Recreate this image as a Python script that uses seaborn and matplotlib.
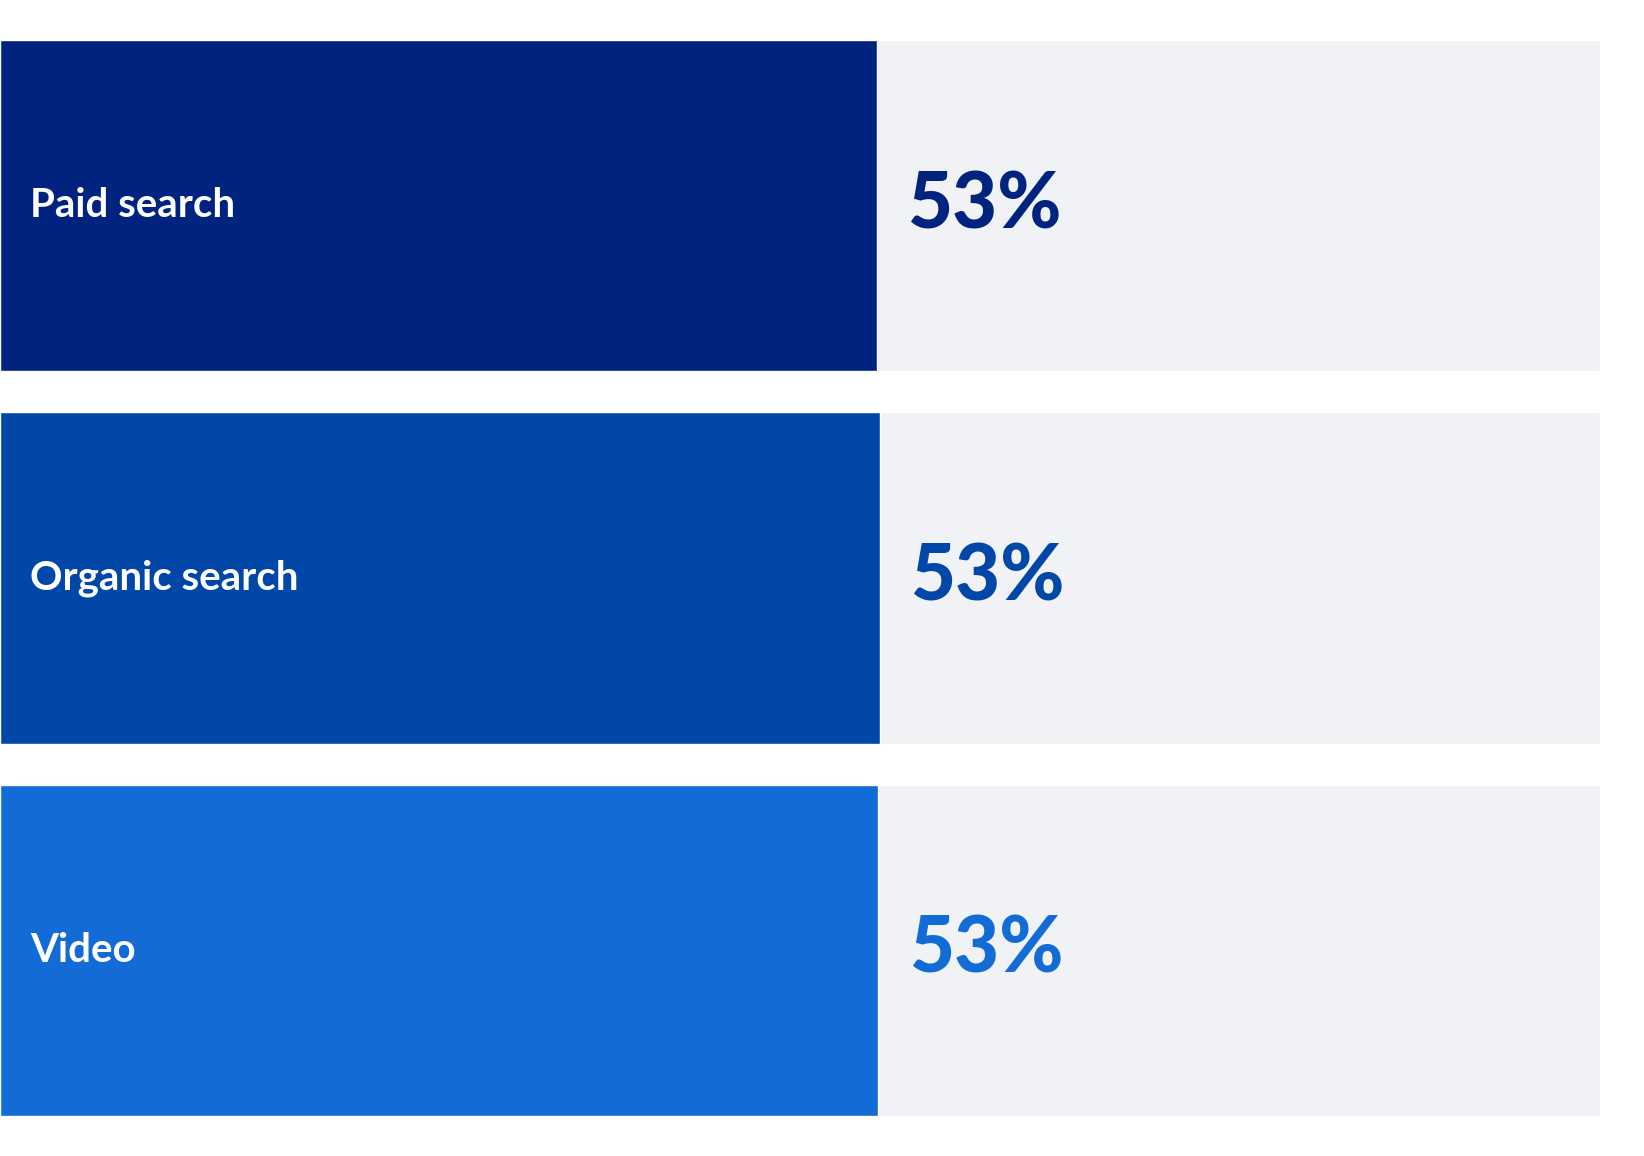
import pandas as pd
import seaborn as sns
import matplotlib.pyplot as plt

channels = ['Paid search', 'Organic search', 'Video']
shares = [54.8, 55.0, 54.9]          # bar length as share of track
labels = ['53%', '53%', '53%']
track = [100, 100, 100]
colors = ['#00237F', '#0047A8', '#136CD5']

df = pd.DataFrame({'channel': channels, 'share': shares, 'track': track})

sns.set_style('white')
plt.rcParams['font.family'] = ['Lato', 'DejaVu Sans']

fig = plt.figure(figsize=(16.44, 11.56), dpi=100)
ax = fig.add_axes([0, 0.0345, 0.973, 0.931])

sns.barplot(data=df, x='track', y='channel', color='#F0F2F5', width=0.89,
            saturation=1, ax=ax)
sns.barplot(data=df, x='share', y='channel', hue='channel', palette=colors,
            width=0.89, saturation=1, legend=False, ax=ax)

for i, (name, val, lab) in enumerate(zip(channels, shares, labels)):
    ax.text(1.9, i, name, color='white', fontsize=29, fontweight='bold', va='center')
    ax.text(val + 1.9, i, lab, color=colors[i], fontsize=56, fontweight='black', va='center')

ax.set_xlim(0, 100)
ax.set_ylim(2.445, -0.445)
ax.axis('off')

fig.savefig('out.png', dpi=100)
